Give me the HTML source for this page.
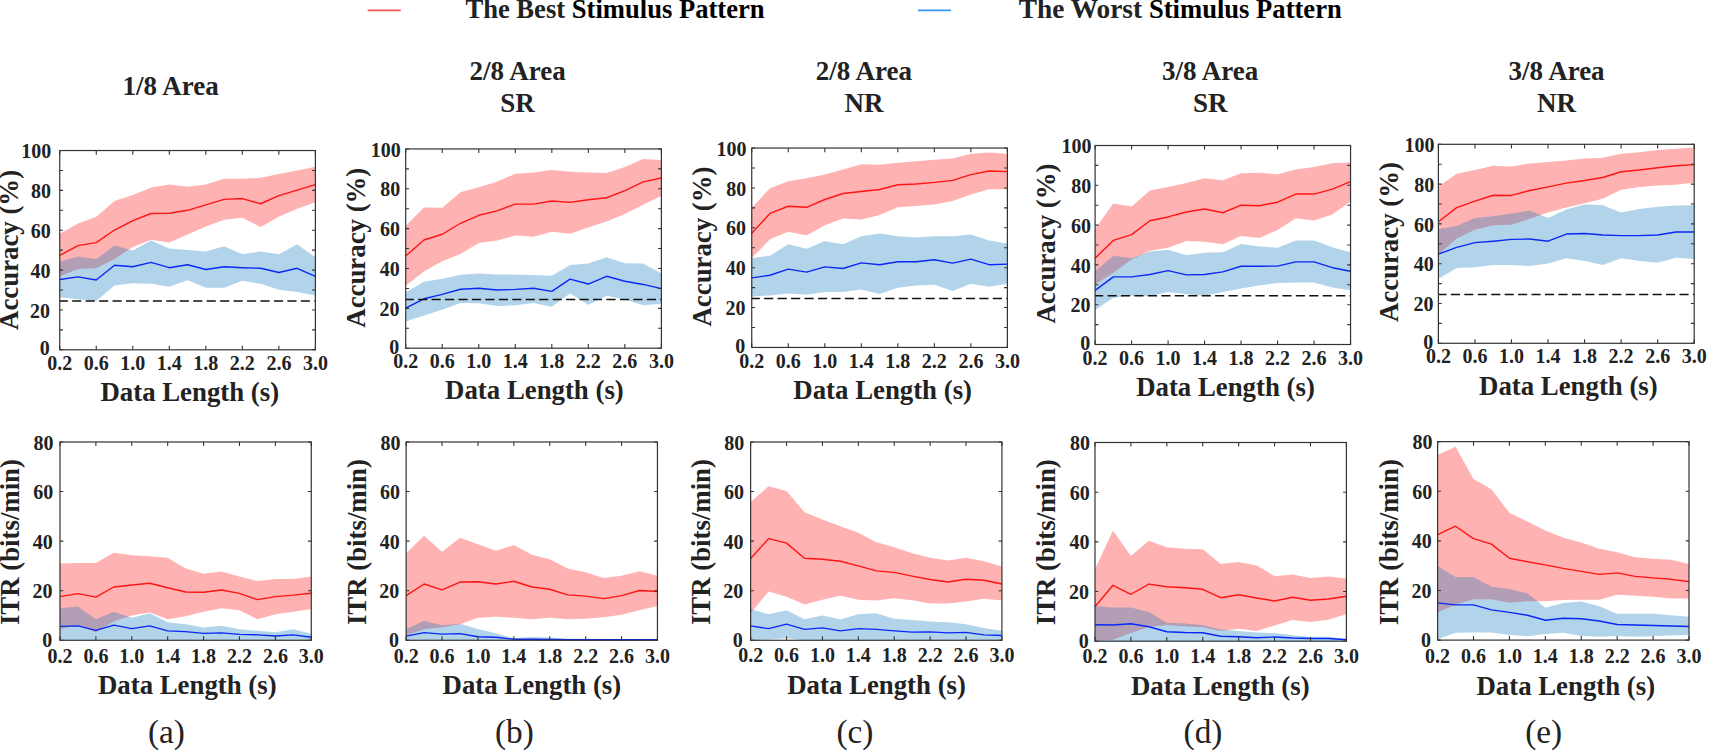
<!DOCTYPE html>
<html lang="en"><head><meta charset="utf-8"><title>Stimulus pattern accuracy and ITR</title>
<style>
html,body{margin:0;padding:0;background:#fff;}
body{width:1727px;height:751px;overflow:hidden;}
svg{display:block;}
text{font-family:"Liberation Serif","Times New Roman",Times,serif;font-weight:bold;fill:#222222;}
.tk{font-size:20px;}
.tt{font-size:27px;}
.lb{font-size:26.8px;}
.sb{font-size:33.3px;font-weight:normal;}
.lg{font-size:26.6px;}
</style></head><body>
<svg width="1727" height="751" viewBox="0 0 1727 751">
<rect width="1727" height="751" fill="#fff"/>

<line x1="367.7" y1="10.4" x2="400.8" y2="10.4" stroke="#f95555" stroke-width="1.9"/>
<text class="lg" x="465.4" y="18.2">The Best <tspan fill="#000">Stimulus Pattern</tspan></text>
<line x1="918" y1="10.4" x2="951" y2="10.4" stroke="#3595f7" stroke-width="1.9"/>
<text class="lg" x="1018.8" y="18.2"><tspan font-size="27.35">The Worst </tspan><tspan fill="#000">Stimulus Pattern</tspan></text>
<text class="tt" x="170.6" y="95.4" text-anchor="middle">1/8 Area</text>
<polygon points="59.74,233.82 78,223.46 96.26,216.69 114.52,200.95 132.79,194.97 151.05,187.59 169.31,184.61 187.57,186.8 205.83,184.41 224.09,178.83 242.35,178.83 260.62,177.83 278.88,174.04 297.14,170.46 315.4,166.67 315.4,202.34 297.14,208.72 278.88,216.69 260.62,227.05 242.35,217.68 224.09,219.68 205.83,226.45 187.57,234.62 169.31,242.59 151.05,239.8 132.79,246.98 114.52,258.93 96.26,268.3 78,269.1 59.74,276.47" fill="#ff0000" fill-opacity="0.3"/>
<polygon points="59.74,261.72 78,256.54 96.26,258.93 114.52,245.58 132.79,250.56 151.05,240.4 169.31,248.57 187.57,249.97 205.83,251.56 224.09,246.18 242.35,254.35 260.62,251.56 278.88,254.35 297.14,244.19 315.4,257.34 315.4,295.6 297.14,292.01 278.88,289.82 260.62,283.84 242.35,280.85 224.09,287.63 205.83,287.63 187.57,280.25 169.31,286.83 151.05,283.84 132.79,283.24 114.52,285.44 96.26,300.98 78,299.19 59.74,297.19" fill="#0072bd" fill-opacity="0.3"/>
<polyline points="59.74,279.46 78,276.87 96.26,280.06 114.52,265.31 132.79,266.7 151.05,262.32 169.31,267.7 187.57,264.71 205.83,269.49 224.09,266.7 242.35,267.7 260.62,268.3 278.88,272.48 297.14,268.3 315.4,276.47" fill="none" stroke="#0a28f5" stroke-width="1.4" stroke-linejoin="round"/>
<polyline points="59.74,255.35 78,245.58 96.26,242.59 114.52,230.04 132.79,220.67 151.05,213.5 169.31,213.3 187.57,210.31 205.83,204.93 224.09,199.35 242.35,198.55 260.62,203.74 278.88,195.57 297.14,190.18 315.4,184.61" fill="none" stroke="#ff1414" stroke-width="1.4" stroke-linejoin="round"/>
<line x1="59.74" y1="300.98" x2="315.4" y2="300.98" stroke="#111" stroke-width="1.5" stroke-dasharray="9.1,4.35" stroke-dashoffset="1"/>
<path d="M59.74 349.8v-4.1M59.74 150.53v4.1M96.26 349.8v-4.1M96.26 150.53v4.1M132.79 349.8v-4.1M132.79 150.53v4.1M169.31 349.8v-4.1M169.31 150.53v4.1M205.83 349.8v-4.1M205.83 150.53v4.1M242.35 349.8v-4.1M242.35 150.53v4.1M278.88 349.8v-4.1M278.88 150.53v4.1M315.4 349.8v-4.1M315.4 150.53v4.1M59.74 349.8h3.3M315.4 349.8h-3.3M59.74 329.87h3.3M315.4 329.87h-3.3M59.74 309.95h3.3M315.4 309.95h-3.3M59.74 290.02h3.3M315.4 290.02h-3.3M59.74 270.09h3.3M315.4 270.09h-3.3M59.74 250.17h3.3M315.4 250.17h-3.3M59.74 230.24h3.3M315.4 230.24h-3.3M59.74 210.31h3.3M315.4 210.31h-3.3M59.74 190.38h3.3M315.4 190.38h-3.3M59.74 170.46h3.3M315.4 170.46h-3.3M59.74 150.53h3.3M315.4 150.53h-3.3" stroke="#333333" stroke-width="1.1" fill="none"/>
<rect x="59.74" y="150.53" width="255.66" height="199.27" fill="none" stroke="#333333" stroke-width="1.2"/>
<text class="tk" x="59.74" y="370.15" text-anchor="middle">0.2</text>
<text class="tk" x="96.26" y="370.15" text-anchor="middle">0.6</text>
<text class="tk" x="132.79" y="370.15" text-anchor="middle">1.0</text>
<text class="tk" x="169.31" y="370.15" text-anchor="middle">1.4</text>
<text class="tk" x="205.83" y="370.15" text-anchor="middle">1.8</text>
<text class="tk" x="242.35" y="370.15" text-anchor="middle">2.2</text>
<text class="tk" x="278.88" y="370.15" text-anchor="middle">2.6</text>
<text class="tk" x="315.4" y="370.15" text-anchor="middle">3.0</text>
<text class="tk" x="49.84" y="355.1" text-anchor="end">0</text>
<text class="tk" x="50.12" y="317.55" text-anchor="end">20</text>
<text class="tk" x="50.4" y="277.69" text-anchor="end">40</text>
<text class="tk" x="50.68" y="237.84" text-anchor="end">60</text>
<text class="tk" x="50.96" y="197.98" text-anchor="end">80</text>
<text class="tk" x="51.24" y="158.13" text-anchor="end">100</text>
<polygon points="59.98,563.44 77.93,562.95 95.88,562.95 113.83,552.78 131.78,555.26 149.73,556.25 167.68,557.74 185.63,568.4 203.58,573.85 221.53,571.62 239.48,576.58 257.43,581.04 275.38,579.06 293.33,579.06 311.28,576.58 311.28,609.05 293.33,611.78 275.38,614.25 257.43,619.21 239.48,610.29 221.53,608.31 203.58,611.78 185.63,616.24 167.68,619.21 149.73,612.52 131.78,615.49 113.83,621.19 95.88,632.35 77.93,625.16 59.98,629.37" fill="#ff0000" fill-opacity="0.3"/>
<polygon points="59.98,608.31 77.93,606.57 95.88,619.21 113.83,611.78 131.78,617.72 149.73,613.26 167.68,622.19 185.63,624.17 203.58,627.39 221.53,625.66 239.48,629.37 257.43,630.86 275.38,632.35 293.33,629.37 311.28,633.84 311.28,640.28 293.33,640.28 275.38,640.28 257.43,640.28 239.48,640.28 221.53,640.28 203.58,640.28 185.63,640.28 167.68,640.28 149.73,640.28 131.78,640.28 113.83,640.28 95.88,640.28 77.93,640.28 59.98,640.28" fill="#0072bd" fill-opacity="0.3"/>
<polyline points="59.98,626.4 77.93,625.9 95.88,630.37 113.83,625.16 131.78,628.63 149.73,625.9 167.68,630.86 185.63,631.6 203.58,633.34 221.53,632.84 239.48,634.33 257.43,634.83 275.38,636.07 293.33,634.83 311.28,637.31" fill="none" stroke="#0a28f5" stroke-width="1.4" stroke-linejoin="round"/>
<polyline points="59.98,596.66 77.93,593.68 95.88,597.15 113.83,586.99 131.78,585.01 149.73,583.27 167.68,587.73 185.63,591.95 203.58,592.19 221.53,589.96 239.48,593.43 257.43,599.63 275.38,596.66 293.33,595.17 311.28,593.19" fill="none" stroke="#ff1414" stroke-width="1.4" stroke-linejoin="round"/>
<path d="M59.98 640.28v-4.1M59.98 441.99v4.1M95.88 640.28v-4.1M95.88 441.99v4.1M131.78 640.28v-4.1M131.78 441.99v4.1M167.68 640.28v-4.1M167.68 441.99v4.1M203.58 640.28v-4.1M203.58 441.99v4.1M239.48 640.28v-4.1M239.48 441.99v4.1M275.38 640.28v-4.1M275.38 441.99v4.1M311.28 640.28v-4.1M311.28 441.99v4.1M59.98 640.28h3.3M311.28 640.28h-3.3M59.98 590.71h3.3M311.28 590.71h-3.3M59.98 541.13h3.3M311.28 541.13h-3.3M59.98 491.56h3.3M311.28 491.56h-3.3M59.98 441.99h3.3M311.28 441.99h-3.3" stroke="#333333" stroke-width="1.1" fill="none"/>
<rect x="59.98" y="441.99" width="251.3" height="198.29" fill="none" stroke="#333333" stroke-width="1.2"/>
<text class="tk" x="59.98" y="662.78" text-anchor="middle">0.2</text>
<text class="tk" x="95.88" y="662.78" text-anchor="middle">0.6</text>
<text class="tk" x="131.78" y="662.78" text-anchor="middle">1.0</text>
<text class="tk" x="167.68" y="662.78" text-anchor="middle">1.4</text>
<text class="tk" x="203.58" y="662.78" text-anchor="middle">1.8</text>
<text class="tk" x="239.48" y="662.78" text-anchor="middle">2.2</text>
<text class="tk" x="275.38" y="662.78" text-anchor="middle">2.6</text>
<text class="tk" x="311.28" y="662.78" text-anchor="middle">3.0</text>
<text class="tk" x="52.13" y="646.68" text-anchor="end">0</text>
<text class="tk" x="52.48" y="598.31" text-anchor="end">20</text>
<text class="tk" x="52.83" y="548.74" text-anchor="end">40</text>
<text class="tk" x="53.18" y="499.16" text-anchor="end">60</text>
<text class="tk" x="53.53" y="449.59" text-anchor="end">80</text>
<text class="lb" transform="translate(17.9 249.9) rotate(-90)" text-anchor="middle">Accuracy (%)</text>
<text class="lb" transform="translate(19 542.1) rotate(-90)" text-anchor="middle">ITR (bits/min)</text>
<text class="lb" x="189.8" y="401.1" text-anchor="middle">Data Length (s)</text>
<text class="lb" x="187.3" y="693.85" text-anchor="middle">Data Length (s)</text>
<text class="sb" x="166.4" y="743.4" text-anchor="middle">(a)</text>
<text class="tt" x="517.6" y="79.8" text-anchor="middle">2/8 Area</text>
<text class="tt" x="517.6" y="111.7" text-anchor="middle">SR</text>
<polygon points="405.7,225.86 423.96,207.53 442.23,207.73 460.49,192.19 478.76,187.21 497.02,181.83 515.29,173.66 533.55,172.46 551.81,170.07 570.08,171.66 588.34,172.46 606.61,173.06 624.87,167.08 643.14,158.91 661.4,159.91 661.4,195.77 643.14,204.74 624.87,214.1 606.61,221.48 588.34,227.45 570.08,233.83 551.81,231.84 533.55,236.82 515.29,235.62 497.02,240.6 478.76,243 460.49,253.95 442.23,261.13 423.96,271.49 405.7,285.64" fill="#ff0000" fill-opacity="0.3"/>
<polygon points="405.7,292.61 423.96,281.85 442.23,278.86 460.49,274.68 478.76,273.48 497.02,274.48 515.29,274.68 533.55,275.08 551.81,275.87 570.08,265.11 588.34,263.52 606.61,257.34 624.87,263.32 643.14,263.52 661.4,273.48 661.4,303.77 643.14,305.36 624.87,299.38 606.61,295.8 588.34,304.76 570.08,293.61 551.81,306.76 533.55,302.97 515.29,305.36 497.02,305.96 478.76,303.17 460.49,302.97 442.23,309.74 423.96,315.52 405.7,321.5" fill="#0072bd" fill-opacity="0.3"/>
<polyline points="405.7,308.15 423.96,298.79 442.23,294.4 460.49,289.22 478.76,288.23 497.02,290.02 515.29,289.42 533.55,288.23 551.81,291.41 570.08,279.06 588.34,284.04 606.61,276.27 624.87,281.25 643.14,284.44 661.4,288.62" fill="none" stroke="#0a28f5" stroke-width="1.4" stroke-linejoin="round"/>
<polyline points="405.7,255.95 423.96,240.01 442.23,234.23 460.49,223.27 478.76,215.3 497.02,210.92 515.29,204.14 533.55,204.14 551.81,200.95 570.08,202.35 588.34,199.76 606.61,197.77 624.87,190.59 643.14,181.83 661.4,178.04" fill="none" stroke="#ff1414" stroke-width="1.4" stroke-linejoin="round"/>
<line x1="405.7" y1="299.38" x2="661.4" y2="299.38" stroke="#111" stroke-width="1.5" stroke-dasharray="9.1,4.35" stroke-dashoffset="1"/>
<path d="M405.7 348.2v-4.1M405.7 148.95v4.1M442.23 348.2v-4.1M442.23 148.95v4.1M478.76 348.2v-4.1M478.76 148.95v4.1M515.29 348.2v-4.1M515.29 148.95v4.1M551.81 348.2v-4.1M551.81 148.95v4.1M588.34 348.2v-4.1M588.34 148.95v4.1M624.87 348.2v-4.1M624.87 148.95v4.1M661.4 348.2v-4.1M661.4 148.95v4.1M405.7 348.2h3.3M661.4 348.2h-3.3M405.7 328.27h3.3M661.4 328.27h-3.3M405.7 308.35h3.3M661.4 308.35h-3.3M405.7 288.43h3.3M661.4 288.43h-3.3M405.7 268.5h3.3M661.4 268.5h-3.3M405.7 248.57h3.3M661.4 248.57h-3.3M405.7 228.65h3.3M661.4 228.65h-3.3M405.7 208.72h3.3M661.4 208.72h-3.3M405.7 188.8h3.3M661.4 188.8h-3.3M405.7 168.87h3.3M661.4 168.87h-3.3M405.7 148.95h3.3M661.4 148.95h-3.3" stroke="#333333" stroke-width="1.1" fill="none"/>
<rect x="405.7" y="148.95" width="255.7" height="199.25" fill="none" stroke="#333333" stroke-width="1.2"/>
<text class="tk" x="405.7" y="368.45" text-anchor="middle">0.2</text>
<text class="tk" x="442.23" y="368.45" text-anchor="middle">0.6</text>
<text class="tk" x="478.76" y="368.45" text-anchor="middle">1.0</text>
<text class="tk" x="515.29" y="368.45" text-anchor="middle">1.4</text>
<text class="tk" x="551.81" y="368.45" text-anchor="middle">1.8</text>
<text class="tk" x="588.34" y="368.45" text-anchor="middle">2.2</text>
<text class="tk" x="624.87" y="368.45" text-anchor="middle">2.6</text>
<text class="tk" x="661.4" y="368.45" text-anchor="middle">3.0</text>
<text class="tk" x="399.25" y="353.5" text-anchor="end">0</text>
<text class="tk" x="399.53" y="315.95" text-anchor="end">20</text>
<text class="tk" x="399.81" y="276.1" text-anchor="end">40</text>
<text class="tk" x="400.09" y="236.25" text-anchor="end">60</text>
<text class="tk" x="400.37" y="196.4" text-anchor="end">80</text>
<text class="tk" x="400.65" y="156.55" text-anchor="end">100</text>
<polygon points="406.15,553.28 424.1,535.68 442.05,551.79 460,537.66 477.95,544.36 495.9,550.8 513.85,545.1 531.8,554.77 549.75,559.23 567.7,568.4 585.65,572.37 603.6,578.07 621.55,575.84 639.5,571.37 657.45,575.84 657.45,606.07 639.5,610.29 621.55,614.75 603.6,617.23 585.65,618.72 567.7,619.21 549.75,617.72 531.8,619.21 513.85,617.72 495.9,616.73 477.95,617.72 460,624.17 442.05,627.14 424.1,629.37 406.15,635.32" fill="#ff0000" fill-opacity="0.3"/>
<polygon points="406.15,628.88 424.1,620.7 442.05,625.16 460,623.67 477.95,628.88 495.9,633.34 513.85,638.3 531.8,637.06 549.75,637.55 567.7,638.79 585.65,638.79 603.6,639.04 621.55,639.04 639.5,639.04 657.45,639.04 657.45,640.28 639.5,640.28 621.55,640.28 603.6,640.28 585.65,640.28 567.7,640.28 549.75,640.28 531.8,640.28 513.85,640.28 495.9,640.28 477.95,640.28 460,640.28 442.05,640.28 424.1,640.28 406.15,640.28" fill="#0072bd" fill-opacity="0.3"/>
<polyline points="406.15,636.07 424.1,632.6 442.05,634.08 460,633.59 477.95,636.81 495.9,637.31 513.85,639.29 531.8,639.29 549.75,639.54 567.7,639.78 585.65,639.78 603.6,639.78 621.55,639.78 639.5,639.78 657.45,639.78" fill="none" stroke="#0a28f5" stroke-width="1.4" stroke-linejoin="round"/>
<polyline points="406.15,595.66 424.1,584.02 442.05,589.96 460,582.03 477.95,581.78 495.9,584.02 513.85,581.29 531.8,586.99 549.75,589.22 567.7,594.92 585.65,596.16 603.6,598.64 621.55,595.66 639.5,590.46 657.45,591.45" fill="none" stroke="#ff1414" stroke-width="1.4" stroke-linejoin="round"/>
<path d="M406.15 640.28v-4.1M406.15 441.99v4.1M442.05 640.28v-4.1M442.05 441.99v4.1M477.95 640.28v-4.1M477.95 441.99v4.1M513.85 640.28v-4.1M513.85 441.99v4.1M549.75 640.28v-4.1M549.75 441.99v4.1M585.65 640.28v-4.1M585.65 441.99v4.1M621.55 640.28v-4.1M621.55 441.99v4.1M657.45 640.28v-4.1M657.45 441.99v4.1M406.15 640.28h3.3M657.45 640.28h-3.3M406.15 590.71h3.3M657.45 590.71h-3.3M406.15 541.13h3.3M657.45 541.13h-3.3M406.15 491.56h3.3M657.45 491.56h-3.3M406.15 441.99h3.3M657.45 441.99h-3.3" stroke="#333333" stroke-width="1.1" fill="none"/>
<rect x="406.15" y="441.99" width="251.3" height="198.29" fill="none" stroke="#333333" stroke-width="1.2"/>
<text class="tk" x="406.15" y="662.68" text-anchor="middle">0.2</text>
<text class="tk" x="442.05" y="662.68" text-anchor="middle">0.6</text>
<text class="tk" x="477.95" y="662.68" text-anchor="middle">1.0</text>
<text class="tk" x="513.85" y="662.68" text-anchor="middle">1.4</text>
<text class="tk" x="549.75" y="662.68" text-anchor="middle">1.8</text>
<text class="tk" x="585.65" y="662.68" text-anchor="middle">2.2</text>
<text class="tk" x="621.55" y="662.68" text-anchor="middle">2.6</text>
<text class="tk" x="657.45" y="662.68" text-anchor="middle">3.0</text>
<text class="tk" x="399" y="646.68" text-anchor="end">0</text>
<text class="tk" x="399.35" y="598.31" text-anchor="end">20</text>
<text class="tk" x="399.7" y="548.74" text-anchor="end">40</text>
<text class="tk" x="400.05" y="499.16" text-anchor="end">60</text>
<text class="tk" x="400.4" y="449.59" text-anchor="end">80</text>
<text class="lb" transform="translate(364.6 247.7) rotate(-90)" text-anchor="middle">Accuracy (%)</text>
<text class="lb" transform="translate(365.7 542.1) rotate(-90)" text-anchor="middle">ITR (bits/min)</text>
<text class="lb" x="534.45" y="399.3" text-anchor="middle">Data Length (s)</text>
<text class="lb" x="531.9" y="693.85" text-anchor="middle">Data Length (s)</text>
<text class="sb" x="514.4" y="743.4" text-anchor="middle">(b)</text>
<text class="tt" x="863.9" y="79.8" text-anchor="middle">2/8 Area</text>
<text class="tt" x="863.9" y="111.7" text-anchor="middle">NR</text>
<polygon points="751.74,207.67 770,188.33 788.26,181.15 806.52,178.36 824.79,174.57 843.05,169.59 861.31,164.2 879.57,164.8 897.83,162.81 916.09,161.21 934.35,159.81 952.62,158.42 970.88,153.83 989.14,152.44 1007.4,153.83 1007.4,189.13 989.14,189.13 970.88,194.51 952.62,200.89 934.35,204.48 916.09,205.88 897.83,207.27 879.57,215.05 861.31,219.44 843.05,218.44 824.79,225.22 806.52,235.59 788.26,231.8 770,239.18 751.74,258.12" fill="#ff0000" fill-opacity="0.3"/>
<polygon points="751.74,258.12 770,255.73 788.26,244.36 806.52,248.75 824.79,241.37 843.05,244.16 861.31,236.18 879.57,233.59 897.83,236.18 916.09,237.58 934.35,236.18 952.62,236.18 970.88,234.59 989.14,240.57 1007.4,243.56 1007.4,283.64 989.14,286.63 970.88,283.64 952.62,291.02 934.35,284.64 916.09,285.44 897.83,287.63 879.57,294.01 861.31,289.62 843.05,292.02 824.79,292.02 806.52,294.81 788.26,293.41 770,295.41 751.74,296.4" fill="#0072bd" fill-opacity="0.3"/>
<polyline points="751.74,277.86 770,275.27 788.26,269.09 806.52,272.08 824.79,266.89 843.05,268.49 861.31,262.9 879.57,264.7 897.83,261.71 916.09,261.71 934.35,259.71 952.62,263.1 970.88,259.12 989.14,264.7 1007.4,264.1" fill="none" stroke="#0a28f5" stroke-width="1.4" stroke-linejoin="round"/>
<polyline points="751.74,233.19 770,213.45 788.26,206.27 806.52,207.27 824.79,199.5 843.05,193.51 861.31,191.52 879.57,189.53 897.83,184.74 916.09,183.94 934.35,182.35 952.62,180.35 970.88,174.57 989.14,170.98 1007.4,171.58" fill="none" stroke="#ff1414" stroke-width="1.4" stroke-linejoin="round"/>
<line x1="751.74" y1="298.6" x2="1007.4" y2="298.6" stroke="#111" stroke-width="1.5" stroke-dasharray="9.1,4.35" stroke-dashoffset="1"/>
<path d="M751.74 347.45v-4.1M751.74 148.05v4.1M788.26 347.45v-4.1M788.26 148.05v4.1M824.79 347.45v-4.1M824.79 148.05v4.1M861.31 347.45v-4.1M861.31 148.05v4.1M897.83 347.45v-4.1M897.83 148.05v4.1M934.35 347.45v-4.1M934.35 148.05v4.1M970.88 347.45v-4.1M970.88 148.05v4.1M1007.4 347.45v-4.1M1007.4 148.05v4.1M751.74 347.45h3.3M1007.4 347.45h-3.3M751.74 327.51h3.3M1007.4 327.51h-3.3M751.74 307.57h3.3M1007.4 307.57h-3.3M751.74 287.63h3.3M1007.4 287.63h-3.3M751.74 267.69h3.3M1007.4 267.69h-3.3M751.74 247.75h3.3M1007.4 247.75h-3.3M751.74 227.81h3.3M1007.4 227.81h-3.3M751.74 207.87h3.3M1007.4 207.87h-3.3M751.74 187.93h3.3M1007.4 187.93h-3.3M751.74 167.99h3.3M1007.4 167.99h-3.3M751.74 148.05h3.3M1007.4 148.05h-3.3" stroke="#333333" stroke-width="1.1" fill="none"/>
<rect x="751.74" y="148.05" width="255.66" height="199.4" fill="none" stroke="#333333" stroke-width="1.2"/>
<text class="tk" x="751.74" y="367.65" text-anchor="middle">0.2</text>
<text class="tk" x="788.26" y="367.65" text-anchor="middle">0.6</text>
<text class="tk" x="824.79" y="367.65" text-anchor="middle">1.0</text>
<text class="tk" x="861.31" y="367.65" text-anchor="middle">1.4</text>
<text class="tk" x="897.83" y="367.65" text-anchor="middle">1.8</text>
<text class="tk" x="934.35" y="367.65" text-anchor="middle">2.2</text>
<text class="tk" x="970.88" y="367.65" text-anchor="middle">2.6</text>
<text class="tk" x="1007.4" y="367.65" text-anchor="middle">3.0</text>
<text class="tk" x="745.14" y="352.75" text-anchor="end">0</text>
<text class="tk" x="745.42" y="315.17" text-anchor="end">20</text>
<text class="tk" x="745.7" y="275.29" text-anchor="end">40</text>
<text class="tk" x="745.98" y="235.41" text-anchor="end">60</text>
<text class="tk" x="746.26" y="195.53" text-anchor="end">80</text>
<text class="tk" x="746.54" y="155.65" text-anchor="end">100</text>
<polygon points="750.63,501.97 768.58,486.36 786.53,491.07 804.48,512.14 822.43,519.57 840.38,526.26 858.33,532.71 876.28,542.13 894.23,547.33 912.18,553.28 930.13,557.74 948.08,560.47 966.03,557.74 983.98,561.21 1001.93,566.42 1001.93,600.62 983.98,598.64 966.03,601.61 948.08,603.6 930.13,603.6 912.18,600.13 894.23,598.14 876.28,600.62 858.33,599.63 840.38,595.66 822.43,599.63 804.48,604.59 786.53,596.66 768.58,591.45 750.63,613.26" fill="#ff0000" fill-opacity="0.3"/>
<polygon points="750.63,609.05 768.58,614.25 786.53,610.29 804.48,619.21 822.43,615.49 840.38,619.21 858.33,614.25 876.28,613.26 894.23,618.72 912.18,619.96 930.13,621.44 948.08,622.19 966.03,624.17 983.98,627.89 1001.93,630.86 1001.93,640.28 983.98,640.28 966.03,640.28 948.08,640.28 930.13,640.28 912.18,640.28 894.23,640.28 876.28,640.28 858.33,640.28 840.38,640.28 822.43,640.28 804.48,640.28 786.53,638.3 768.58,639.54 750.63,640.28" fill="#0072bd" fill-opacity="0.3"/>
<polyline points="750.63,625.9 768.58,628.63 786.53,624.17 804.48,629.37 822.43,627.89 840.38,630.86 858.33,628.63 876.28,629.37 894.23,630.86 912.18,632.1 930.13,631.85 948.08,632.84 966.03,632.35 983.98,634.83 1001.93,635.57" fill="none" stroke="#0a28f5" stroke-width="1.4" stroke-linejoin="round"/>
<polyline points="750.63,558.49 768.58,538.66 786.53,543.12 804.48,558.24 822.43,559.23 840.38,561.21 858.33,565.92 876.28,570.88 894.23,572.37 912.18,576.08 930.13,579.55 948.08,582.03 966.03,579.31 983.98,580.3 1001.93,584.02" fill="none" stroke="#ff1414" stroke-width="1.4" stroke-linejoin="round"/>
<path d="M750.63 640.28v-4.1M750.63 441.99v4.1M786.53 640.28v-4.1M786.53 441.99v4.1M822.43 640.28v-4.1M822.43 441.99v4.1M858.33 640.28v-4.1M858.33 441.99v4.1M894.23 640.28v-4.1M894.23 441.99v4.1M930.13 640.28v-4.1M930.13 441.99v4.1M966.03 640.28v-4.1M966.03 441.99v4.1M1001.93 640.28v-4.1M1001.93 441.99v4.1M750.63 640.28h3.3M1001.93 640.28h-3.3M750.63 590.71h3.3M1001.93 590.71h-3.3M750.63 541.13h3.3M1001.93 541.13h-3.3M750.63 491.56h3.3M1001.93 491.56h-3.3M750.63 441.99h3.3M1001.93 441.99h-3.3" stroke="#333333" stroke-width="1.1" fill="none"/>
<rect x="750.63" y="441.99" width="251.3" height="198.29" fill="none" stroke="#333333" stroke-width="1.2"/>
<text class="tk" x="750.63" y="662.28" text-anchor="middle">0.2</text>
<text class="tk" x="786.53" y="662.28" text-anchor="middle">0.6</text>
<text class="tk" x="822.43" y="662.28" text-anchor="middle">1.0</text>
<text class="tk" x="858.33" y="662.28" text-anchor="middle">1.4</text>
<text class="tk" x="894.23" y="662.28" text-anchor="middle">1.8</text>
<text class="tk" x="930.13" y="662.28" text-anchor="middle">2.2</text>
<text class="tk" x="966.03" y="662.28" text-anchor="middle">2.6</text>
<text class="tk" x="1001.93" y="662.28" text-anchor="middle">3.0</text>
<text class="tk" x="742.83" y="646.68" text-anchor="end">0</text>
<text class="tk" x="743.18" y="598.31" text-anchor="end">20</text>
<text class="tk" x="743.53" y="548.74" text-anchor="end">40</text>
<text class="tk" x="743.88" y="499.16" text-anchor="end">60</text>
<text class="tk" x="744.23" y="449.59" text-anchor="end">80</text>
<text class="lb" transform="translate(710.6 246.5) rotate(-90)" text-anchor="middle">Accuracy (%)</text>
<text class="lb" transform="translate(710.3 542.1) rotate(-90)" text-anchor="middle">ITR (bits/min)</text>
<text class="lb" x="882.7" y="399" text-anchor="middle">Data Length (s)</text>
<text class="lb" x="876.6" y="693.85" text-anchor="middle">Data Length (s)</text>
<text class="sb" x="854.9" y="743.4" text-anchor="middle">(c)</text>
<text class="tt" x="1210.2" y="79.8" text-anchor="middle">3/8 Area</text>
<text class="tt" x="1210.2" y="111.7" text-anchor="middle">SR</text>
<polygon points="1095.1,228.68 1113.35,203.61 1131.59,206.59 1149.84,190.47 1168.09,186.89 1186.33,183.11 1204.58,178.14 1222.83,180.13 1241.07,173.36 1259.32,172.76 1277.56,174.35 1295.81,169.38 1314.06,166.99 1332.3,163.21 1350.55,162.61 1350.55,201.42 1332.3,214.55 1314.06,220.52 1295.81,218.33 1277.56,230.07 1259.32,238.03 1241.07,236.04 1222.83,244.2 1204.58,241.82 1186.33,241.02 1168.09,247.79 1149.84,250.77 1131.59,259.53 1113.35,272.86 1095.1,284.6" fill="#ff0000" fill-opacity="0.3"/>
<polygon points="1095.1,271.27 1113.35,255.75 1131.59,258.13 1149.84,251.57 1168.09,249.78 1186.33,255.15 1204.58,252.76 1222.83,252.16 1241.07,244 1259.32,246.39 1277.56,247.79 1295.81,240.42 1314.06,240.42 1332.3,247.19 1350.55,252.16 1350.55,290.37 1332.3,287.39 1314.06,282.41 1295.81,282.41 1277.56,283.01 1259.32,285.4 1241.07,288.38 1222.83,291.96 1204.58,295.75 1186.33,294.15 1168.09,291.96 1149.84,296.34 1131.59,295.75 1113.35,297.74 1095.1,310.07" fill="#0072bd" fill-opacity="0.3"/>
<polyline points="1095.1,290.37 1113.35,276.84 1131.59,276.84 1149.84,274.45 1168.09,270.67 1186.33,274.85 1204.58,274.45 1222.83,271.87 1241.07,266.29 1259.32,266.29 1277.56,266.09 1295.81,261.92 1314.06,261.92 1332.3,267.69 1350.55,271.27" fill="none" stroke="#0a28f5" stroke-width="1.4" stroke-linejoin="round"/>
<polyline points="1095.1,258.13 1113.35,240.42 1131.59,234.65 1149.84,220.72 1168.09,216.94 1186.33,211.97 1204.58,208.98 1222.83,212.76 1241.07,205.2 1259.32,205.8 1277.56,202.22 1295.81,194.06 1314.06,194.06 1332.3,189.08 1350.55,181.72" fill="none" stroke="#ff1414" stroke-width="1.4" stroke-linejoin="round"/>
<line x1="1095.1" y1="295.75" x2="1350.55" y2="295.75" stroke="#111" stroke-width="1.5" stroke-dasharray="9.1,4.35" stroke-dashoffset="1"/>
<path d="M1095.1 344.5v-4.1M1095.1 145.5v4.1M1131.59 344.5v-4.1M1131.59 145.5v4.1M1168.09 344.5v-4.1M1168.09 145.5v4.1M1204.58 344.5v-4.1M1204.58 145.5v4.1M1241.07 344.5v-4.1M1241.07 145.5v4.1M1277.56 344.5v-4.1M1277.56 145.5v4.1M1314.06 344.5v-4.1M1314.06 145.5v4.1M1350.55 344.5v-4.1M1350.55 145.5v4.1M1095.1 344.5h3.3M1350.55 344.5h-3.3M1095.1 324.6h3.3M1350.55 324.6h-3.3M1095.1 304.7h3.3M1350.55 304.7h-3.3M1095.1 284.8h3.3M1350.55 284.8h-3.3M1095.1 264.9h3.3M1350.55 264.9h-3.3M1095.1 245h3.3M1350.55 245h-3.3M1095.1 225.1h3.3M1350.55 225.1h-3.3M1095.1 205.2h3.3M1350.55 205.2h-3.3M1095.1 185.3h3.3M1350.55 185.3h-3.3M1095.1 165.4h3.3M1350.55 165.4h-3.3M1095.1 145.5h3.3M1350.55 145.5h-3.3" stroke="#333333" stroke-width="1.1" fill="none"/>
<rect x="1095.1" y="145.5" width="255.45" height="199" fill="none" stroke="#333333" stroke-width="1.2"/>
<text class="tk" x="1095.1" y="364.7" text-anchor="middle">0.2</text>
<text class="tk" x="1131.59" y="364.7" text-anchor="middle">0.6</text>
<text class="tk" x="1168.09" y="364.7" text-anchor="middle">1.0</text>
<text class="tk" x="1204.58" y="364.7" text-anchor="middle">1.4</text>
<text class="tk" x="1241.07" y="364.7" text-anchor="middle">1.8</text>
<text class="tk" x="1277.56" y="364.7" text-anchor="middle">2.2</text>
<text class="tk" x="1314.06" y="364.7" text-anchor="middle">2.6</text>
<text class="tk" x="1350.55" y="364.7" text-anchor="middle">3.0</text>
<text class="tk" x="1090.2" y="349.8" text-anchor="end">0</text>
<text class="tk" x="1090.48" y="312.3" text-anchor="end">20</text>
<text class="tk" x="1090.76" y="272.5" text-anchor="end">40</text>
<text class="tk" x="1091.04" y="232.7" text-anchor="end">60</text>
<text class="tk" x="1091.32" y="192.9" text-anchor="end">80</text>
<text class="tk" x="1091.6" y="153.1" text-anchor="end">100</text>
<polygon points="1095,569.17 1112.96,530.42 1130.91,556.01 1148.87,540.86 1166.83,547.31 1184.79,548.8 1202.74,549.3 1220.7,563.96 1238.66,561.97 1256.61,565.45 1274.57,576.13 1292.53,574.39 1310.49,578.11 1328.44,576.62 1346.4,578.61 1346.4,613.88 1328.44,619.84 1310.49,622.08 1292.53,620.09 1274.57,625.55 1256.61,631.02 1238.66,628.78 1220.7,631.02 1202.74,627.29 1184.79,626.55 1166.83,625.06 1148.87,627.04 1130.91,633 1112.96,639.71 1095,641.2" fill="#ff0000" fill-opacity="0.3"/>
<polygon points="1095,605.93 1112.96,607.42 1130.91,607.42 1148.87,611.89 1166.83,622.82 1184.79,623.57 1202.74,625.06 1220.7,629.53 1238.66,631.02 1256.61,632.51 1274.57,633 1292.53,635.24 1310.49,636.73 1328.44,636.73 1346.4,638.96 1346.4,641.2 1328.44,641.2 1310.49,641.2 1292.53,641.2 1274.57,641.2 1256.61,641.2 1238.66,641.2 1220.7,641.2 1202.74,641.2 1184.79,641.2 1166.83,641.2 1148.87,641.2 1130.91,641.2 1112.96,641.2 1095,641.2" fill="#0072bd" fill-opacity="0.3"/>
<polyline points="1095,624.81 1112.96,625.06 1130.91,623.81 1148.87,626.79 1166.83,631.76 1184.79,632.51 1202.74,632.76 1220.7,636.23 1238.66,636.73 1256.61,637.72 1274.57,636.98 1292.53,637.97 1310.49,638.47 1328.44,638.47 1346.4,639.71" fill="none" stroke="#0a28f5" stroke-width="1.4" stroke-linejoin="round"/>
<polyline points="1095,606.68 1112.96,585.32 1130.91,594.26 1148.87,584.07 1166.83,586.81 1184.79,587.8 1202.74,589.29 1220.7,597.73 1238.66,594.75 1256.61,597.98 1274.57,600.96 1292.53,597.24 1310.49,600.22 1328.44,598.98 1346.4,596.24" fill="none" stroke="#ff1414" stroke-width="1.4" stroke-linejoin="round"/>
<path d="M1095 641.2v-4.1M1095 442.5v4.1M1130.91 641.2v-4.1M1130.91 442.5v4.1M1166.83 641.2v-4.1M1166.83 442.5v4.1M1202.74 641.2v-4.1M1202.74 442.5v4.1M1238.66 641.2v-4.1M1238.66 442.5v4.1M1274.57 641.2v-4.1M1274.57 442.5v4.1M1310.49 641.2v-4.1M1310.49 442.5v4.1M1346.4 641.2v-4.1M1346.4 442.5v4.1M1095 641.2h3.3M1346.4 641.2h-3.3M1095 591.53h3.3M1346.4 591.53h-3.3M1095 541.85h3.3M1346.4 541.85h-3.3M1095 492.18h3.3M1346.4 492.18h-3.3M1095 442.5h3.3M1346.4 442.5h-3.3" stroke="#333333" stroke-width="1.1" fill="none"/>
<rect x="1095" y="442.5" width="251.4" height="198.7" fill="none" stroke="#333333" stroke-width="1.2"/>
<text class="tk" x="1095" y="663.3" text-anchor="middle">0.2</text>
<text class="tk" x="1130.91" y="663.3" text-anchor="middle">0.6</text>
<text class="tk" x="1166.83" y="663.3" text-anchor="middle">1.0</text>
<text class="tk" x="1202.74" y="663.3" text-anchor="middle">1.4</text>
<text class="tk" x="1238.66" y="663.3" text-anchor="middle">1.8</text>
<text class="tk" x="1274.57" y="663.3" text-anchor="middle">2.2</text>
<text class="tk" x="1310.49" y="663.3" text-anchor="middle">2.6</text>
<text class="tk" x="1346.4" y="663.3" text-anchor="middle">3.0</text>
<text class="tk" x="1088.7" y="647.6" text-anchor="end">0</text>
<text class="tk" x="1089.05" y="599.13" text-anchor="end">20</text>
<text class="tk" x="1089.4" y="549.45" text-anchor="end">40</text>
<text class="tk" x="1089.75" y="499.78" text-anchor="end">60</text>
<text class="tk" x="1090.1" y="450.1" text-anchor="end">80</text>
<text class="lb" transform="translate(1054.6 243.6) rotate(-90)" text-anchor="middle">Accuracy (%)</text>
<text class="lb" transform="translate(1055.2 542.3) rotate(-90)" text-anchor="middle">ITR (bits/min)</text>
<text class="lb" x="1225.5" y="396" text-anchor="middle">Data Length (s)</text>
<text class="lb" x="1220.3" y="695.2" text-anchor="middle">Data Length (s)</text>
<text class="sb" x="1203" y="743.2" text-anchor="middle">(d)</text>
<text class="tt" x="1556.5" y="79.8" text-anchor="middle">3/8 Area</text>
<text class="tt" x="1556.5" y="111.7" text-anchor="middle">NR</text>
<polygon points="1438.4,186.49 1456.67,173.75 1474.94,169.97 1493.21,165.79 1511.49,166.39 1529.76,163.4 1548.03,162.01 1566.3,160.42 1584.57,158.43 1602.84,157.63 1621.11,153.65 1639.39,152.26 1657.66,150.07 1675.93,148.68 1694.2,147.48 1694.2,182.51 1675.93,184.7 1657.66,185.49 1639.39,186.89 1621.11,189.87 1602.84,198.83 1584.57,203.2 1566.3,207.58 1548.03,212.56 1529.76,218.73 1511.49,224.7 1493.21,225.29 1474.94,229.67 1456.67,238.43 1438.4,254.75" fill="#ff0000" fill-opacity="0.3"/>
<polygon points="1438.4,229.07 1456.67,226.09 1474.94,217.93 1493.21,216.34 1511.49,213.55 1529.76,210.57 1548.03,217.93 1566.3,209.57 1584.57,204.6 1602.84,205.19 1621.11,212.56 1639.39,208.97 1657.66,206.79 1675.93,205.59 1694.2,205.19 1694.2,259.12 1675.93,257.73 1657.66,262.71 1639.39,261.11 1621.11,258.13 1602.84,265.09 1584.57,261.11 1566.3,258.13 1548.03,263.5 1529.76,265.89 1511.49,265.09 1493.21,265.09 1474.94,267.28 1456.67,267.88 1438.4,278.82" fill="#0072bd" fill-opacity="0.3"/>
<polyline points="1438.4,254.15 1456.67,247.38 1474.94,242.61 1493.21,241.21 1511.49,239.42 1529.76,239.02 1548.03,241.21 1566.3,234.05 1584.57,233.45 1602.84,235.04 1621.11,235.64 1639.39,235.64 1657.66,235.04 1675.93,232.06 1694.2,232.06" fill="none" stroke="#0a28f5" stroke-width="1.4" stroke-linejoin="round"/>
<polyline points="1438.4,221.71 1456.67,207.58 1474.94,201.21 1493.21,195.24 1511.49,195.44 1529.76,190.47 1548.03,186.89 1566.3,183.1 1584.57,180.52 1602.84,177.53 1621.11,171.76 1639.39,169.97 1657.66,167.78 1675.93,165.79 1694.2,164.6" fill="none" stroke="#ff1414" stroke-width="1.4" stroke-linejoin="round"/>
<line x1="1438.4" y1="294.55" x2="1694.2" y2="294.55" stroke="#111" stroke-width="1.5" stroke-dasharray="9.1,4.35" stroke-dashoffset="1"/>
<path d="M1438.4 343.3v-4.1M1438.4 144.3v4.1M1474.94 343.3v-4.1M1474.94 144.3v4.1M1511.49 343.3v-4.1M1511.49 144.3v4.1M1548.03 343.3v-4.1M1548.03 144.3v4.1M1584.57 343.3v-4.1M1584.57 144.3v4.1M1621.11 343.3v-4.1M1621.11 144.3v4.1M1657.66 343.3v-4.1M1657.66 144.3v4.1M1694.2 343.3v-4.1M1694.2 144.3v4.1M1438.4 343.3h3.3M1694.2 343.3h-3.3M1438.4 323.4h3.3M1694.2 323.4h-3.3M1438.4 303.5h3.3M1694.2 303.5h-3.3M1438.4 283.6h3.3M1694.2 283.6h-3.3M1438.4 263.7h3.3M1694.2 263.7h-3.3M1438.4 243.8h3.3M1694.2 243.8h-3.3M1438.4 223.9h3.3M1694.2 223.9h-3.3M1438.4 204h3.3M1694.2 204h-3.3M1438.4 184.1h3.3M1694.2 184.1h-3.3M1438.4 164.2h3.3M1694.2 164.2h-3.3M1438.4 144.3h3.3M1694.2 144.3h-3.3" stroke="#333333" stroke-width="1.1" fill="none"/>
<rect x="1438.4" y="144.3" width="255.8" height="199" fill="none" stroke="#333333" stroke-width="1.2"/>
<text class="tk" x="1438.4" y="363.3" text-anchor="middle">0.2</text>
<text class="tk" x="1474.94" y="363.3" text-anchor="middle">0.6</text>
<text class="tk" x="1511.49" y="363.3" text-anchor="middle">1.0</text>
<text class="tk" x="1548.03" y="363.3" text-anchor="middle">1.4</text>
<text class="tk" x="1584.57" y="363.3" text-anchor="middle">1.8</text>
<text class="tk" x="1621.11" y="363.3" text-anchor="middle">2.2</text>
<text class="tk" x="1657.66" y="363.3" text-anchor="middle">2.6</text>
<text class="tk" x="1694.2" y="363.3" text-anchor="middle">3.0</text>
<text class="tk" x="1433.15" y="348.6" text-anchor="end">0</text>
<text class="tk" x="1433.43" y="311.1" text-anchor="end">20</text>
<text class="tk" x="1433.71" y="271.3" text-anchor="end">40</text>
<text class="tk" x="1433.99" y="231.5" text-anchor="end">60</text>
<text class="tk" x="1434.27" y="191.7" text-anchor="end">80</text>
<text class="tk" x="1434.55" y="151.9" text-anchor="end">100</text>
<polygon points="1437.6,455.04 1455.56,446.85 1473.51,479.1 1491.47,489.27 1509.43,512.84 1527.39,521.52 1545.34,530.45 1563.3,537.65 1581.26,542.61 1599.21,548.81 1617.17,552.28 1635.13,557.24 1653.09,558.73 1671.04,559.72 1689,563.94 1689,598.42 1671.04,598.42 1653.09,596.69 1635.13,595.69 1617.17,594.7 1599.21,599.66 1581.26,599.66 1563.3,599.91 1545.34,601.15 1527.39,601.15 1509.43,602.64 1491.47,599.17 1473.51,599.17 1455.56,604.87 1437.6,612.32" fill="#ff0000" fill-opacity="0.3"/>
<polygon points="1437.6,565.93 1455.56,577.09 1473.51,577.09 1491.47,586.76 1509.43,589 1527.39,593.21 1545.34,607.85 1563.3,602.89 1581.26,601.4 1599.21,606.36 1617.17,613.8 1635.13,613.8 1653.09,613.8 1671.04,615.29 1689,616.78 1689,634.89 1671.04,635.39 1653.09,636.13 1635.13,636.63 1617.17,635.88 1599.21,636.63 1581.26,635.88 1563.3,632.66 1545.34,633.9 1527.39,636.13 1509.43,634.89 1491.47,632.41 1473.51,632.41 1455.56,632.66 1437.6,639.36" fill="#0072bd" fill-opacity="0.3"/>
<polyline points="1437.6,602.89 1455.56,604.87 1473.51,604.87 1491.47,609.83 1509.43,612.32 1527.39,615.29 1545.34,620.25 1563.3,618.27 1581.26,618.77 1599.21,621 1617.17,624.47 1635.13,624.97 1653.09,625.46 1671.04,625.96 1689,626.46" fill="none" stroke="#0a28f5" stroke-width="1.4" stroke-linejoin="round"/>
<polyline points="1437.6,534.67 1455.56,526.23 1473.51,538.64 1491.47,544.09 1509.43,558.24 1527.39,561.71 1545.34,564.93 1563.3,568.41 1581.26,571.38 1599.21,574.36 1617.17,572.87 1635.13,576.34 1653.09,577.83 1671.04,579.32 1689,581.55" fill="none" stroke="#ff1414" stroke-width="1.4" stroke-linejoin="round"/>
<path d="M1437.6 640.1v-4.1M1437.6 441.64v4.1M1473.51 640.1v-4.1M1473.51 441.64v4.1M1509.43 640.1v-4.1M1509.43 441.64v4.1M1545.34 640.1v-4.1M1545.34 441.64v4.1M1581.26 640.1v-4.1M1581.26 441.64v4.1M1617.17 640.1v-4.1M1617.17 441.64v4.1M1653.09 640.1v-4.1M1653.09 441.64v4.1M1689 640.1v-4.1M1689 441.64v4.1M1437.6 640.1h3.3M1689 640.1h-3.3M1437.6 590.49h3.3M1689 590.49h-3.3M1437.6 540.87h3.3M1689 540.87h-3.3M1437.6 491.25h3.3M1689 491.25h-3.3M1437.6 441.64h3.3M1689 441.64h-3.3" stroke="#333333" stroke-width="1.1" fill="none"/>
<rect x="1437.6" y="441.64" width="251.4" height="198.46" fill="none" stroke="#333333" stroke-width="1.2"/>
<text class="tk" x="1437.6" y="662.5" text-anchor="middle">0.2</text>
<text class="tk" x="1473.51" y="662.5" text-anchor="middle">0.6</text>
<text class="tk" x="1509.43" y="662.5" text-anchor="middle">1.0</text>
<text class="tk" x="1545.34" y="662.5" text-anchor="middle">1.4</text>
<text class="tk" x="1581.26" y="662.5" text-anchor="middle">1.8</text>
<text class="tk" x="1617.17" y="662.5" text-anchor="middle">2.2</text>
<text class="tk" x="1653.09" y="662.5" text-anchor="middle">2.6</text>
<text class="tk" x="1689" y="662.5" text-anchor="middle">3.0</text>
<text class="tk" x="1431.1" y="646.5" text-anchor="end">0</text>
<text class="tk" x="1431.45" y="598.09" text-anchor="end">20</text>
<text class="tk" x="1431.8" y="548.47" text-anchor="end">40</text>
<text class="tk" x="1432.15" y="498.86" text-anchor="end">60</text>
<text class="tk" x="1432.5" y="449.24" text-anchor="end">80</text>
<text class="lb" transform="translate(1398.3 242.1) rotate(-90)" text-anchor="middle">Accuracy (%)</text>
<text class="lb" transform="translate(1397.7 542.2) rotate(-90)" text-anchor="middle">ITR (bits/min)</text>
<text class="lb" x="1568.4" y="394.6" text-anchor="middle">Data Length (s)</text>
<text class="lb" x="1565.8" y="694.5" text-anchor="middle">Data Length (s)</text>
<text class="sb" x="1543.7" y="743.2" text-anchor="middle">(e)</text>
</svg></body></html>
